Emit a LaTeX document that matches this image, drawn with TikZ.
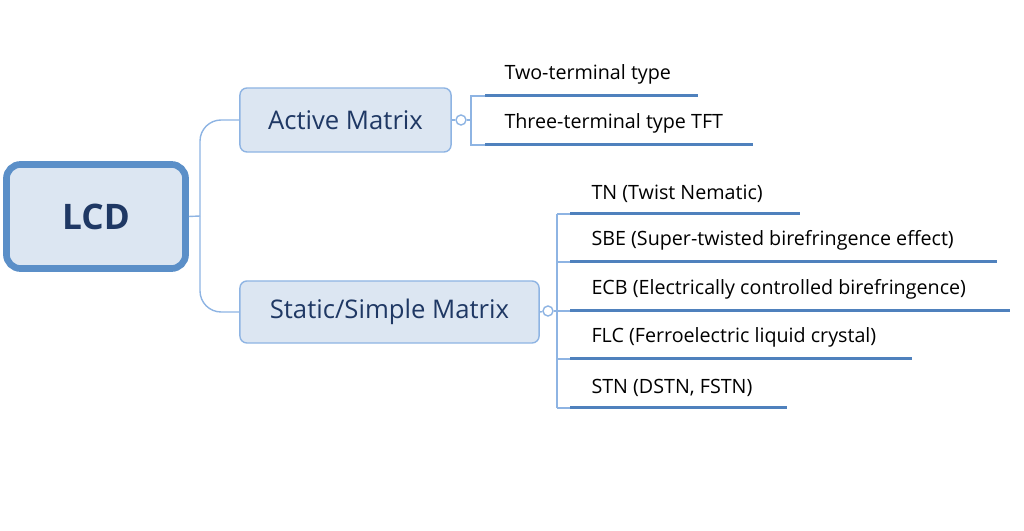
\documentclass[tikz,border=0pt]{standalone}
\usepackage{fontspec}
\setmainfont{Open Sans}
\usetikzlibrary{positioning}
\definecolor{boxfill}{HTML}{DCE6F2}
\definecolor{boxline}{HTML}{8EB4E3}
\definecolor{rootline}{HTML}{5B8FC8}
\definecolor{uline}{HTML}{4F81BD}
\definecolor{txtblue}{HTML}{1F3864}
\tikzset{every picture/.style={font issue=\fontsize{5.6}{6.5}},
         font issue/.style={execute at begin picture={#1\selectfont}}
        }
\begin{document}
\begin{tikzpicture}[x=0.01cm, y=-0.01cm,
  mainbox/.style={draw=boxline, line width=0.4pt, fill=boxfill, rounded corners=2pt, inner sep=0pt, font=\fontsize{7.3}{8}\selectfont, text=txtblue},
  link/.style={draw=boxline, line width=0.4pt},
  leaf/.style={anchor=south west, inner sep=0pt, font=\fontsize{5.6}{6.5}\selectfont},
  under/.style={draw=uline, line width=0.85pt},
  fold/.style={draw=boxline, fill=white, circle, inner sep=0pt, minimum size=0.1cm}]
\useasboundingbox (0,0) rectangle (1024,531);
% main boxes
\node[mainbox, minimum width=2.11cm, minimum height=0.64cm] (active) at (345.5,120) {Active Matrix};
\node[mainbox, minimum width=2.99cm, minimum height=0.62cm] (static) at (389.5,312) {Static/Simple Matrix};
\coordinate (fork) at (200,216);
\draw[link, rounded corners=6pt] (active.west) -| (fork) |- (static.west);
\node[draw=rootline, line width=1.9pt, fill=boxfill, rounded corners=4pt, minimum width=1.79cm, minimum height=1.04cm, font=\fontsize{10}{12}\selectfont\bfseries, text=txtblue] (lcd) at (96,216.5) {LCD};
\draw[link] (lcd.east) -- (fork);
% active children
\node[fold] (f1) at (461,120) {};
\draw[link] (active.east) -- (f1);
\draw[link] (f1) -- (471,120) coordinate (a0);
\coordinate (a1) at (485,96);
\coordinate (a2) at (485,145);
\draw[link] (a1) -| (a0) |- (a2);
\draw[under] (a1) -- node[pos=0, leaf, xshift=0.18cm, yshift=0.1cm]{Two-terminal type} (698,96);
\draw[under] (a2) -- node[pos=0, leaf, xshift=0.18cm, yshift=0.1cm]{Three-terminal type TFT} (753,145);
% static children
\node[fold] (f2) at (548,311) {};
\draw[link] (static.east) -- (f2);
\draw[link] (557,214) coordinate (s1) -- (557,408) coordinate (s5);
\draw[link] (f2) -- (557,311);
\foreach \y/\x/\t in {214/800/TN (Twist Nematic),
                      262/997/SBE (Super-twisted birefringence effect),
                      311/1010/ECB (Electrically controlled birefringence),
                      359/912/FLC (Ferroelectric liquid crystal),
                      408/787/{STN (DSTN, FSTN)}}{
  \draw[link] (557,\y) -- (570,\y);
  \draw[under] (570,\y) -- node[pos=0, leaf, xshift=0.2cm, yshift=0.1cm]{\t} (\x,\y);
}
\end{tikzpicture}
\end{document}
